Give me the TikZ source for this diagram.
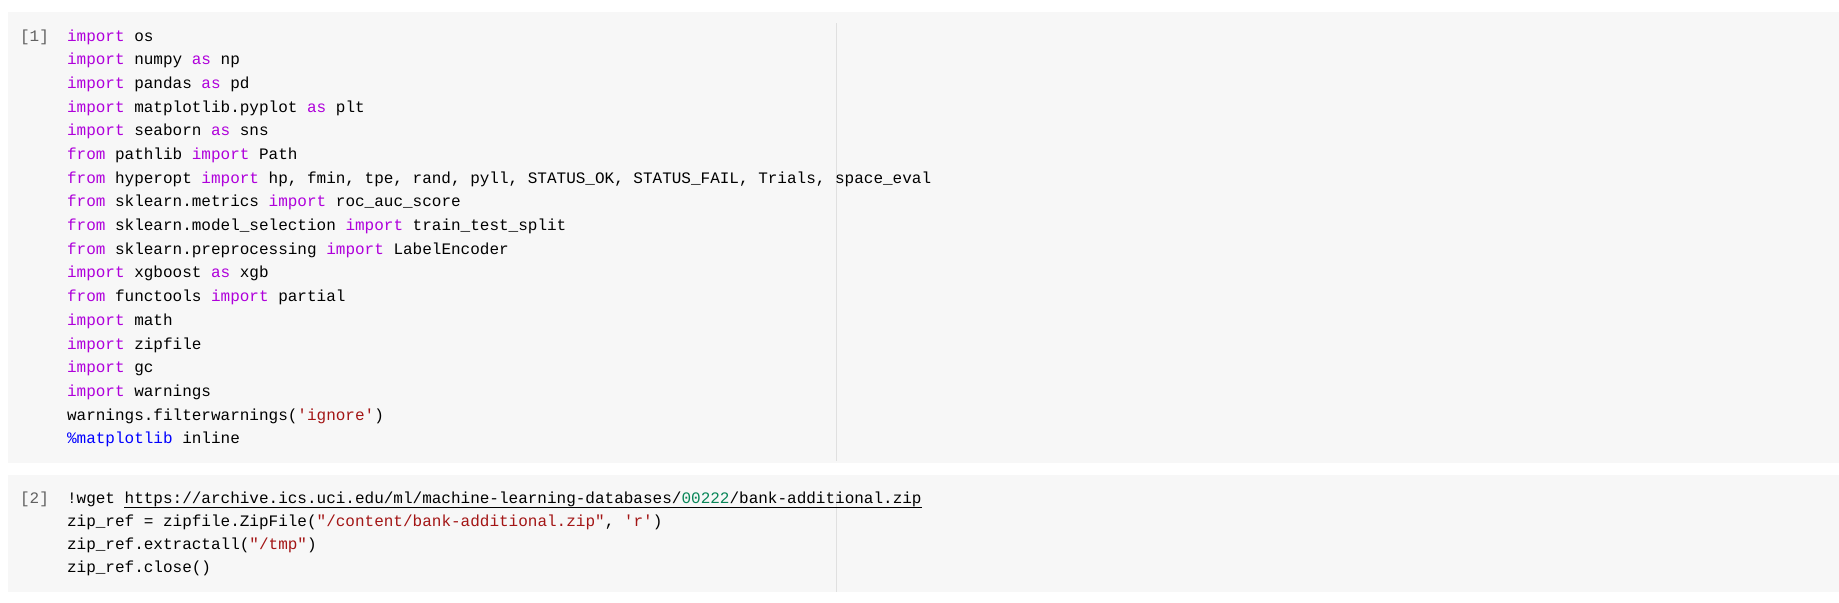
\documentclass[tikz,border=0pt]{standalone}
\usepackage{fontspec}
\newfontfamily\code{Liberation Mono}
\definecolor{bgc}{HTML}{F7F7F7}
\definecolor{kwc}{HTML}{AF00DB}
\definecolor{stc}{HTML}{A31515}
\definecolor{nmc}{HTML}{098658}
\definecolor{mgc}{HTML}{0000FF}
\definecolor{gyc}{HTML}{616161}
\definecolor{dvc}{HTML}{E0E0E0}
\newcommand{\kw}[1]{\textcolor{kwc}{#1}}
\newcommand{\st}[1]{\textcolor{stc}{#1}}
\begin{document}
\begin{tikzpicture}[x=1.1728pt,y=-1.1728pt,
  ln/.style={anchor=base west,inner sep=0pt,font=\code\fontsize{16.0}{19}\selectfont},
  pr/.style={ln,text=gyc}]
\useasboundingbox (0,0) rectangle (1568,513.3);
\fill[white] (0,0) rectangle (1568,513.3);
\fill[bgc] (7,10) rectangle (1568,395);
\fill[bgc] (7,405) rectangle (1568,505);
\draw[dvc] (713,20) -- (713,393);
\draw[dvc] (713,420) -- (713,505);
\node[pr] (p1) at (17,35) {[1]};
\node[pr] (p2) at (17,429) {[2]};
\foreach \i/\t in {
 1/{\kw{import} os},
 2/{\kw{import} numpy \kw{as} np},
 3/{\kw{import} pandas \kw{as} pd},
 4/{\kw{import} matplotlib.pyplot \kw{as} plt},
 5/{\kw{import} seaborn \kw{as} sns},
 6/{\kw{from} pathlib \kw{import} Path},
 7/{\kw{from} hyperopt \kw{import} hp, fmin, tpe, rand, pyll, STATUS\_OK, STATUS\_FAIL, Trials, space\_eval},
 8/{\kw{from} sklearn.metrics \kw{import} roc\_auc\_score},
 9/{\kw{from} sklearn.model\_selection \kw{import} train\_test\_split},
 10/{\kw{from} sklearn.preprocessing \kw{import} LabelEncoder},
 11/{\kw{import} xgboost \kw{as} xgb},
 12/{\kw{from} functools \kw{import} partial},
 13/{\kw{import} math},
 14/{\kw{import} zipfile},
 15/{\kw{import} gc},
 16/{\kw{import} warnings},
 17/{warnings.filterwarnings(\st{'ignore'})},
 18/{\textcolor{mgc}{\%matplotlib} inline}}
 {\node[ln] (a\i) at (57,{35+(\i-1)*20.2}) {\t};}
\node[ln] (b1) at (57,429) {!wget https://archive.ics.uci.edu/ml/machine-learning-databases/\textcolor{nmc}{00222}/bank-additional.zip};
\node[ln] (b2) at (57,448.7) {zip\_ref = zipfile.ZipFile(\st{"/content/bank-additional.zip"}, \st{'r'})};
\node[ln] (b3) at (57,468.4) {zip\_ref.extractall(\st{"/tmp"})};
\node[ln] (b4) at (57,488.1) {zip\_ref.close()};
\draw[black,line width=0.8pt] (106,433) -- (786,433);
\end{tikzpicture}
\end{document}
